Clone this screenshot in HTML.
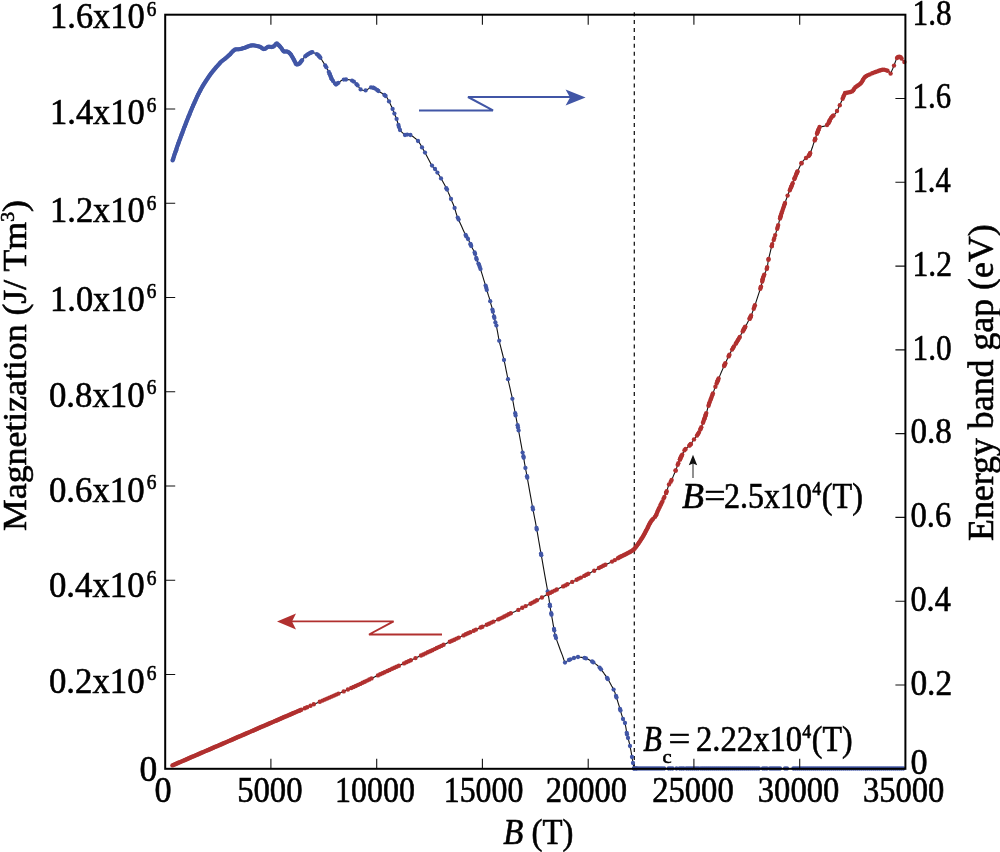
<!DOCTYPE html>
<html lang="en"><head><meta charset="utf-8"><title>Magnetization and energy band gap vs B</title>
<style>
html,body{margin:0;padding:0;background:#fff;}
body{width:1000px;height:852px;overflow:hidden;}
svg{display:block;font-family:"Liberation Serif","Times New Roman",serif;fill:#000;}
</style></head><body>
<svg width="1000" height="852" viewBox="0 0 1000 852">
<rect width="1000" height="852" fill="#fff"/>
<line x1="634.3" y1="12.2" x2="634.3" y2="768.8" stroke="#111" stroke-width="1.25" stroke-dasharray="4 3.912"/>
<path d="M172.6,160.4 L173.4,158.1 L174.4,155.0 L175.7,151.3 L177.1,147.3 L178.5,143.1 L180.0,139.0 L181.5,134.9 L183.1,130.5 L184.8,126.0 L186.6,121.5 L188.3,117.2 L190.0,113.0 L191.7,109.0 L193.3,105.1 L195.0,101.4 L196.7,97.7 L198.3,94.3 L200.0,91.0 L201.7,87.9 L203.3,85.1 L205.0,82.4 L206.7,79.8 L208.3,77.4 L210.0,75.0 L211.7,72.7 L213.5,70.4 L215.3,68.3 L217.0,66.3 L218.6,64.5 L220.0,63.0 L221.1,61.8 L222.0,61.0 L222.8,60.4 L223.5,59.9 L224.2,59.4 L225.0,58.8 L225.8,58.1 L226.6,57.4 L227.4,56.7 L228.2,56.0 L229.0,55.3 L229.8,54.6 L230.6,53.8 L231.4,52.9 L232.2,52.0 L233.0,51.1 L233.8,50.4 L234.6,49.8 L235.4,49.5 L236.2,49.3 L237.0,49.3 L237.8,49.3 L238.6,49.3 L239.4,49.2 L240.2,49.1 L240.9,48.9 L241.6,48.7 L242.4,48.5 L243.2,48.3 L244.2,48.0 L245.3,47.6 L246.6,47.1 L247.9,46.5 L249.3,46.0 L250.7,45.6 L252.0,45.4 L253.3,45.4 L254.7,45.5 L256.1,45.8 L257.5,46.1 L258.7,46.5 L259.8,46.8 L260.7,47.2 L261.5,47.7 L262.1,48.2 L262.7,48.7 L263.3,49.1 L264.0,49.2 L264.7,49.1 L265.4,48.7 L266.1,48.2 L266.8,47.6 L267.5,47.1 L268.2,46.8 L269.0,46.7 L269.8,46.8 L270.6,46.9 L271.5,47.0 L272.3,47.0 L273.0,46.8 L273.7,46.4 L274.4,45.7 L275.1,45.0 L275.7,44.3 L276.2,43.6 L276.6,43.2 L277.1,43.7 L277.7,44.3 L278.5,45.0 L279.3,45.8 L280.1,46.7 L280.8,47.4 L281.4,48.2 L281.9,49.0 L282.4,49.8 L282.8,50.5 L283.3,51.2 L283.8,51.6 L284.3,51.8 L284.8,51.8 L285.3,51.6 L285.8,51.4 L286.3,51.3 L286.8,51.4 L287.4,51.6 L288.0,51.9 L288.6,52.3 L289.2,52.8 L289.8,53.3 L290.4,54.0 L291.0,54.8 L291.6,55.8 L292.3,56.9 L292.9,58.0 L293.5,59.0 L294.0,60.0 L294.5,60.9 L295.0,61.9 L295.4,62.8 L295.8,63.6 L296.2,64.3 L296.4,64.8 L296.7,64.7 L297.2,64.6 L297.7,64.4 L298.3,64.2 L298.9,63.9 L299.4,63.6 L299.8,63.2 L300.2,62.8 L300.6,62.3 L300.9,61.8 L301.3,61.2 L301.8,60.6 L302.3,59.9 L302.8,59.2 L303.4,58.5 L304.0,57.7 L304.6,56.9 L305.4,56.2 L306.3,55.5 L307.3,54.7 L308.4,54.0 L309.5,53.3 L310.5,52.8 L311.4,52.4 L312.1,52.2 L312.6,52.2 L313.0,52.3 L313.5,52.5 L313.9,52.8 L314.4,53.0 L315.0,53.2 L315.6,53.5 L316.2,53.9 L316.9,54.2 L317.5,54.6 L318.0,55.0 L318.4,55.4 L318.8,55.7 L319.1,56.0 L319.5,56.5 L319.9,57.0 L320.4,57.8 L321.1,58.8 L321.9,60.0 L322.7,61.4 L323.6,62.8 L324.4,64.1 L325.2,65.4 L325.9,66.6 L326.5,67.7 L327.1,68.7 L327.7,69.8 L328.2,70.9 L328.8,72.0 L329.3,73.2 L329.8,74.4 L330.3,75.7 L330.7,76.9 L331.2,78.1 L331.8,79.2 L332.5,80.3 L333.3,81.3 L334.1,82.3 L334.9,83.3 L335.5,84.0 L336.0,84.6 L336.2,84.4 L336.5,84.2 L336.9,83.9 L337.3,83.6 L337.8,83.2 L338.4,82.8 L339.1,82.3 L339.9,81.7 L340.7,81.0 L341.7,80.4 L342.7,79.9 L343.8,79.6 L345.0,79.5 L346.4,79.5 L347.9,79.6 L349.4,79.8 L350.8,80.2 L352.0,80.6 L353.1,81.2 L354.2,81.9 L355.1,82.8 L356.0,83.7 L356.8,84.6 L357.6,85.4 L358.2,86.1 L358.7,86.9 L359.1,87.6 L359.5,88.3 L360.0,88.9 L360.6,89.4 L361.3,89.8 L362.1,90.1 L363.0,90.3 L363.8,90.5 L364.7,90.5 L365.6,90.4 L366.5,90.1 L367.4,89.5 L368.4,88.9 L369.3,88.2 L370.2,87.7 L371.0,87.4 L371.8,87.3 L372.5,87.4 L373.1,87.7 L373.8,88.0 L374.4,88.3 L375.0,88.6 L375.6,88.9 L376.0,89.2 L376.5,89.6 L377.0,90.0 L377.6,90.4 L378.4,91.0 L379.4,91.7 L380.7,92.5 L382.0,93.3 L383.3,94.2 L384.6,95.1 L385.6,96.0 L386.4,96.9 L387.0,97.7 L387.5,98.5 L388.0,99.4 L388.5,100.4 L389.0,101.4 L389.6,102.6 L390.3,103.9 L390.9,105.2 L391.5,106.6 L392.1,107.9 L392.6,109.0 L393.0,109.9 L393.3,110.7 L393.6,111.4 L393.8,112.1 L394.1,112.8 L394.4,113.6 L394.7,114.4 L395.1,115.3 L395.5,116.2 L395.9,117.1 L396.3,118.1 L396.6,119.0 L396.9,120.0 L397.2,121.0 L397.5,122.0 L397.8,123.1 L398.1,124.1 L398.4,125.0 L398.6,125.9 L398.8,126.7 L399.0,127.6 L399.2,128.4 L399.5,129.2 L400.0,130.0 L400.7,130.9 L401.6,131.9 L402.6,132.8 L403.6,133.7 L404.4,134.5 L405.0,135.0 L405.6,134.9 L406.3,134.8 L407.2,134.6 L408.2,134.6 L409.3,134.7 L410.4,135.0 L411.6,135.6 L412.9,136.5 L414.3,137.6 L415.7,138.7 L416.9,139.9 L418.0,141.0 L418.9,142.1 L419.6,143.1 L420.3,144.2 L420.9,145.3 L421.4,146.4 L422.0,147.4 L422.5,148.2 L422.9,148.9 L423.3,149.6 L423.7,150.3 L424.3,151.3 L425.0,152.6 L426.0,154.4 L427.2,156.7 L428.5,159.2 L429.8,161.7 L431.0,163.9 L432.0,165.6 L432.7,166.7 L433.3,167.4 L433.8,167.9 L434.2,168.2 L434.6,168.5 L435.0,169.0 L435.4,169.6 L435.8,170.1 L436.2,170.7 L436.5,171.2 L436.9,171.9 L437.4,172.6 L437.9,173.4 L438.4,174.2 L439.0,175.0 L439.6,176.0 L440.2,177.1 L441.0,178.4 L441.9,180.0 L442.9,181.8 L444.0,183.8 L445.1,185.8 L446.1,187.8 L447.0,189.6 L447.8,191.3 L448.5,192.9 L449.2,194.4 L449.8,196.0 L450.4,197.5 L451.0,199.0 L451.6,200.5 L452.2,202.0 L452.9,203.5 L453.5,205.0 L454.0,206.5 L454.6,208.0 L455.1,209.5 L455.5,210.9 L455.9,212.3 L456.3,213.8 L456.9,215.5 L457.7,217.6 L458.8,220.2 L460.2,223.3 L461.7,226.6 L463.2,229.9 L464.5,232.8 L465.6,235.0 L466.3,236.4 L466.8,237.3 L467.1,237.8 L467.4,238.1 L467.7,238.4 L468.0,239.0 L468.4,239.8 L468.9,240.7 L469.3,241.6 L469.7,242.5 L470.1,243.3 L470.4,244.0 L470.6,244.5 L470.7,244.7 L470.7,244.9 L470.8,245.1 L470.9,245.4 L471.2,246.0 L471.6,246.8 L472.2,247.8 L472.8,249.0 L473.5,250.2 L474.1,251.3 L474.6,252.4 L475.0,253.4 L475.2,254.3 L475.5,255.2 L475.7,256.2 L475.9,257.1 L476.2,258.0 L476.5,259.0 L476.9,259.9 L477.3,260.9 L477.7,261.9 L478.1,262.8 L478.4,263.6 L478.6,264.1 L478.8,264.3 L478.9,264.5 L479.0,264.8 L479.3,265.6 L479.8,267.0 L480.6,269.4 L481.6,272.6 L482.7,276.2 L483.8,279.9 L484.8,283.1 L485.6,285.6 L486.0,287.1 L486.3,287.9 L486.4,288.3 L486.4,288.6 L486.5,289.0 L486.8,290.0 L487.3,291.5 L487.8,293.3 L488.4,295.4 L489.1,297.4 L489.7,299.4 L490.2,301.2 L490.6,302.8 L491.0,304.3 L491.4,305.7 L491.8,307.0 L492.1,308.3 L492.4,309.6 L492.7,310.8 L493.0,312.0 L493.2,313.2 L493.5,314.3 L493.8,315.3 L494.0,316.4 L494.2,317.5 L494.5,318.6 L494.7,319.6 L495.0,320.6 L495.2,321.6 L495.4,322.4 L495.6,323.0 L495.7,323.2 L495.8,323.4 L495.9,323.7 L496.1,324.4 L496.4,325.6 L496.7,327.4 L497.1,329.6 L497.6,332.2 L498.1,335.0 L498.6,337.9 L499.2,340.8 L499.9,343.8 L500.7,346.9 L501.5,350.1 L502.4,353.5 L503.2,356.8 L504.0,360.0 L504.7,363.2 L505.4,366.4 L506.0,369.6 L506.7,372.8 L507.3,376.0 L508.0,379.2 L508.7,382.5 L509.5,385.9 L510.3,389.3 L511.0,392.6 L511.8,395.8 L512.4,398.8 L513.0,401.5 L513.5,404.1 L513.9,406.5 L514.4,408.8 L514.8,411.0 L515.2,413.2 L515.6,415.4 L516.1,417.6 L516.5,419.8 L516.9,421.8 L517.3,423.6 L517.6,425.2 L517.8,426.3 L517.9,426.8 L518.0,427.2 L518.1,427.7 L518.3,428.6 L518.6,430.4 L519.1,433.3 L519.8,437.2 L520.6,441.6 L521.4,445.9 L522.1,449.8 L522.6,452.6 L522.9,454.2 L523.1,454.9 L523.1,455.1 L523.2,455.1 L523.2,455.3 L523.4,456.2 L523.7,457.7 L524.0,459.7 L524.3,461.8 L524.7,464.0 L525.1,466.1 L525.4,468.0 L525.6,469.3 L525.8,470.1 L526.0,470.9 L526.2,471.9 L526.5,473.5 L527.0,476.2 L527.7,480.2 L528.6,485.2 L529.6,490.9 L530.7,496.8 L531.7,502.5 L532.6,507.4 L533.4,511.6 L534.1,515.4 L534.8,518.9 L535.5,522.4 L536.1,525.9 L536.8,529.6 L537.5,533.3 L538.1,536.9 L538.7,540.5 L539.4,544.4 L540.1,548.7 L541.0,553.6 L542.1,559.6 L543.3,566.6 L544.6,574.1 L545.9,581.4 L547.1,587.9 L548.0,593.0 L548.6,596.6 L549.0,599.0 L549.2,600.7 L549.4,602.0 L549.6,603.2 L549.8,604.6 L550.0,606.1 L550.2,607.4 L550.4,608.6 L550.6,609.9 L550.9,611.4 L551.2,613.2 L551.6,615.5 L552.1,618.3 L552.6,621.2 L553.1,624.1 L553.6,626.8 L554.0,629.0 L554.3,630.7 L554.5,632.0 L554.7,633.1 L554.9,634.1 L555.0,634.8 L555.2,635.6 L555.3,636.0 L555.2,635.9 L555.1,635.7 L555.1,635.7 L555.4,636.4 L556.0,638.0 L557.1,641.1 L558.7,645.5 L560.5,650.5 L562.4,655.4 L563.9,659.7 L565.0,662.6 L565.4,662.3 L566.0,661.9 L566.7,661.4 L567.4,660.9 L568.2,660.4 L569.0,660.0 L569.8,659.6 L570.6,659.3 L571.5,658.9 L572.4,658.6 L573.2,658.3 L574.0,658.0 L574.7,657.7 L575.3,657.5 L575.8,657.3 L576.4,657.1 L577.1,657.0 L578.0,657.0 L579.1,657.1 L580.4,657.2 L581.8,657.4 L583.2,657.7 L584.7,658.0 L586.0,658.4 L587.3,658.9 L588.6,659.5 L589.8,660.2 L591.0,660.9 L592.2,661.6 L593.4,662.4 L594.5,663.1 L595.5,663.9 L596.5,664.6 L597.5,665.5 L598.5,666.4 L599.6,667.6 L600.8,669.0 L602.0,670.6 L603.3,672.3 L604.5,674.1 L605.8,675.9 L607.0,677.8 L608.2,679.7 L609.4,681.8 L610.6,683.9 L611.7,686.0 L612.8,687.9 L613.6,689.6 L614.2,690.9 L614.7,691.9 L615.0,692.7 L615.2,693.6 L615.6,694.6 L616.0,696.0 L616.6,697.8 L617.3,700.0 L618.0,702.3 L618.7,704.6 L619.4,706.9 L620.0,709.0 L620.6,710.9 L621.1,712.8 L621.6,714.6 L622.1,716.2 L622.6,717.7 L623.0,719.0 L623.4,719.9 L623.7,720.5 L624.1,720.9 L624.4,721.3 L624.7,722.0 L625.0,723.0 L625.3,724.6 L625.7,726.5 L626.1,728.7 L626.4,730.9 L626.7,732.9 L627.0,734.4 L627.2,735.4 L627.4,736.0 L627.5,736.4 L627.6,736.8 L627.8,737.2 L628.0,738.0 L628.3,739.0 L628.6,740.2 L628.9,741.5 L629.3,742.9 L629.7,744.4 L630.0,746.0 L630.3,747.7 L630.7,749.6 L631.1,751.6 L631.4,753.6 L631.7,755.4 L632.0,757.0 L632.2,758.3 L632.4,759.4 L632.6,760.3 L632.7,761.2 L632.8,762.1 L633.0,763.0 L633.2,764.0 L633.4,765.1 L633.6,766.1 L633.7,767.1 L633.9,767.9 L634.0,768.5" fill="none" stroke="#111" stroke-width="1.1" stroke-linejoin="round"/>
<path d="M172.4,765.4 L188.0,758.7 L210.8,748.8 L237.2,737.4 L263.6,726.0 L286.4,716.1 L302.0,709.4 L306.3,707.5 L312.5,704.9 L319.8,701.8 L327.3,698.5 L334.3,695.5 L340.0,693.0 L344.4,691.1 L348.0,689.5 L351.1,688.1 L354.0,686.8 L356.9,685.4 L360.0,684.0 L363.1,682.5 L365.9,681.2 L368.8,679.8 L371.9,678.3 L375.5,676.5 L380.0,674.4 L385.5,671.8 L391.9,668.9 L398.8,665.8 L405.9,662.5 L413.1,659.2 L420.0,656.0 L426.7,652.9 L433.3,649.7 L440.0,646.5 L446.7,643.3 L453.3,640.1 L460.0,637.0 L467.0,633.7 L474.5,630.3 L482.0,626.9 L489.0,623.6 L495.2,620.8 L500.0,618.6 L503.2,617.1 L505.0,616.2 L506.0,615.7 L506.5,615.4 L507.0,615.1 L508.0,614.6 L509.3,614.0 L510.6,613.4 L511.9,612.8 L513.3,612.3 L514.6,611.7 L516.0,611.0 L517.5,610.3 L519.0,609.5 L520.5,608.7 L522.0,607.9 L523.5,607.1 L525.0,606.4 L526.4,605.7 L527.7,605.0 L529.1,604.4 L530.4,603.7 L531.7,603.1 L533.0,602.4 L534.3,601.7 L535.7,600.9 L537.1,600.2 L538.4,599.5 L539.7,598.7 L541.0,598.0 L542.2,597.3 L543.4,596.6 L544.6,595.9 L545.7,595.3 L546.8,594.6 L548.0,594.0 L549.1,593.4 L550.2,592.8 L551.2,592.3 L552.4,591.7 L553.6,591.1 L555.0,590.4 L556.6,589.6 L558.3,588.8 L560.2,587.8 L562.1,586.9 L564.1,586.0 L566.0,585.0 L568.0,584.0 L570.1,583.0 L572.2,581.9 L574.3,580.9 L576.2,579.9 L578.0,579.0 L579.6,578.2 L581.0,577.5 L582.3,576.9 L583.5,576.3 L584.7,575.6 L586.0,575.0 L587.3,574.3 L588.6,573.6 L589.9,573.0 L591.2,572.3 L592.4,571.6 L593.6,571.0 L594.7,570.4 L595.7,569.8 L596.6,569.3 L597.6,568.7 L598.5,568.2 L599.6,567.6 L600.8,567.0 L602.0,566.4 L603.2,565.8 L604.5,565.2 L605.8,564.6 L607.0,564.0 L608.2,563.4 L609.4,562.9 L610.6,562.3 L611.8,561.7 L612.9,561.2 L614.0,560.6 L615.0,560.0 L616.0,559.4 L616.9,558.8 L617.9,558.2 L618.9,557.6 L620.0,557.0 L621.2,556.3 L622.6,555.7 L624.0,555.0 L625.4,554.3 L626.8,553.6 L628.0,553.0 L629.1,552.4 L630.1,551.9 L631.0,551.4 L631.9,550.9 L632.8,550.3 L633.6,549.6 L634.4,548.8 L635.2,547.9 L635.9,547.0 L636.6,546.0 L637.3,545.0 L638.0,544.0 L638.7,543.0 L639.4,542.1 L640.0,541.1 L640.7,540.1 L641.3,539.1 L642.0,538.0 L642.7,536.9 L643.3,535.8 L644.0,534.6 L644.7,533.4 L645.3,532.2 L646.0,531.0 L646.7,529.7 L647.4,528.2 L648.1,526.8 L648.8,525.3 L649.4,524.1 L650.0,523.0 L650.4,522.2 L650.8,521.7 L651.0,521.2 L651.3,520.9 L651.6,520.5 L652.0,520.0 L652.5,519.4 L653.1,518.8 L653.8,518.2 L654.4,517.5 L655.1,516.8 L655.6,516.0 L656.1,515.2 L656.4,514.3 L656.8,513.4 L657.2,512.5 L657.5,511.5 L658.0,510.4 L658.5,509.2 L659.2,508.0 L659.8,506.7 L660.4,505.4 L661.1,504.1 L661.6,503.0 L662.1,502.0 L662.5,501.1 L662.9,500.3 L663.2,499.5 L663.6,498.7 L664.0,497.8 L664.4,496.9 L664.8,496.0 L665.2,495.1 L665.6,494.1 L666.0,493.1 L666.4,492.0 L666.8,490.8 L667.3,489.5 L667.7,488.1 L668.1,486.8 L668.6,485.5 L669.0,484.4 L669.4,483.5 L669.8,482.9 L670.2,482.3 L670.6,481.7 L671.1,481.0 L671.6,480.0 L672.2,478.7 L672.9,477.1 L673.6,475.4 L674.3,473.7 L675.0,472.1 L675.6,470.6 L676.1,469.3 L676.5,468.2 L676.9,467.2 L677.2,466.1 L677.6,465.1 L678.0,464.0 L678.5,462.9 L678.9,461.7 L679.4,460.6 L679.9,459.4 L680.4,458.2 L681.0,457.0 L681.6,455.8 L682.2,454.5 L682.9,453.1 L683.6,451.9 L684.3,450.7 L685.0,449.6 L685.8,448.7 L686.6,447.9 L687.5,447.2 L688.4,446.5 L689.2,445.8 L690.0,445.0 L690.7,444.1 L691.4,443.2 L692.1,442.2 L692.7,441.3 L693.3,440.3 L694.0,439.4 L694.7,438.5 L695.4,437.6 L696.1,436.7 L696.7,435.8 L697.4,434.9 L698.0,434.0 L698.6,433.0 L699.1,432.1 L699.6,431.1 L700.1,430.1 L700.5,429.1 L701.0,428.0 L701.5,426.9 L701.9,425.7 L702.3,424.6 L702.8,423.4 L703.2,422.2 L703.6,421.0 L704.0,419.9 L704.4,418.8 L704.8,417.7 L705.2,416.6 L705.6,415.3 L706.0,414.0 L706.5,412.5 L707.0,410.8 L707.5,409.0 L708.0,407.2 L708.5,405.5 L709.0,404.0 L709.4,402.8 L709.8,401.8 L710.1,400.9 L710.5,399.9 L711.0,398.7 L711.6,397.0 L712.4,394.9 L713.3,392.4 L714.3,389.6 L715.4,386.7 L716.5,383.8 L717.6,381.0 L718.8,378.1 L720.1,375.1 L721.4,372.0 L722.7,369.1 L723.9,366.3 L725.0,364.0 L725.9,362.1 L726.6,360.5 L727.2,359.2 L727.8,358.0 L728.4,356.9 L729.0,355.6 L729.7,354.3 L730.3,353.0 L730.9,351.8 L731.6,350.5 L732.3,349.3 L733.0,348.0 L733.8,346.7 L734.6,345.5 L735.4,344.2 L736.2,342.9 L737.1,341.5 L738.0,340.0 L738.9,338.3 L739.9,336.6 L740.9,334.7 L742.0,332.8 L743.0,330.9 L744.0,329.0 L745.0,327.2 L746.1,325.3 L747.1,323.4 L748.1,321.6 L749.1,319.8 L750.0,318.0 L750.7,316.4 L751.4,315.0 L751.9,313.7 L752.5,312.1 L753.2,310.3 L754.0,308.0 L755.1,304.9 L756.3,301.2 L757.6,297.2 L758.9,293.2 L760.1,289.6 L761.0,286.6 L761.6,284.4 L762.0,282.8 L762.2,281.6 L762.4,280.5 L762.6,279.4 L763.0,278.0 L763.6,276.4 L764.3,274.7 L765.0,273.0 L765.8,271.3 L766.4,269.6 L767.0,268.0 L767.4,266.5 L767.6,265.1 L767.8,263.8 L768.0,262.3 L768.3,260.8 L768.6,259.0 L769.1,256.9 L769.7,254.4 L770.3,251.8 L770.9,249.3 L771.5,246.9 L772.0,245.0 L772.4,243.6 L772.7,242.7 L773.0,241.9 L773.2,241.2 L773.6,240.3 L774.0,239.0 L774.6,237.2 L775.2,235.1 L775.9,232.8 L776.7,230.4 L777.4,228.1 L778.0,226.0 L778.5,224.1 L779.0,222.2 L779.5,220.4 L780.0,218.7 L780.5,216.9 L781.0,215.0 L781.6,213.0 L782.3,210.9 L783.0,208.8 L783.7,206.7 L784.4,204.7 L785.0,203.0 L785.5,201.5 L785.9,200.3 L786.3,199.2 L786.7,198.1 L787.1,197.0 L787.6,195.6 L788.2,194.0 L788.9,192.3 L789.7,190.5 L790.5,188.6 L791.3,186.8 L792.0,185.0 L792.7,183.3 L793.3,181.7 L793.9,180.1 L794.6,178.5 L795.2,176.8 L796.0,175.0 L796.9,173.0 L797.8,170.9 L798.8,168.7 L799.8,166.6 L800.7,164.6 L801.6,163.0 L802.4,161.7 L803.2,160.8 L803.9,160.0 L804.6,159.3 L805.3,158.7 L806.0,158.0 L806.6,157.4 L807.2,157.1 L807.7,156.8 L808.3,156.4 L808.9,155.6 L809.6,154.4 L810.4,152.5 L811.4,150.0 L812.4,147.3 L813.3,144.4 L814.2,141.8 L815.0,139.6 L815.6,137.9 L816.1,136.4 L816.5,135.2 L816.9,134.1 L817.2,133.0 L817.6,132.0 L818.0,131.0 L818.4,130.0 L818.8,129.0 L819.1,128.2 L819.4,127.5 L819.6,127.0 L820.4,126.8 L821.6,126.7 L823.1,126.4 L824.5,126.1 L825.9,125.6 L827.0,125.0 L827.8,124.1 L828.5,123.0 L829.1,121.8 L829.6,120.5 L830.3,119.2 L831.0,118.0 L831.9,117.0 L832.8,116.1 L833.8,115.2 L834.8,114.1 L835.9,112.8 L837.0,111.0 L838.3,108.4 L839.8,105.1 L841.4,101.6 L842.9,98.1 L844.1,95.1 L845.0,93.0 L845.8,92.9 L847.0,92.7 L848.3,92.4 L849.7,92.2 L851.0,91.8 L852.0,91.4 L852.7,90.9 L853.2,90.3 L853.6,89.7 L853.9,89.0 L854.4,88.3 L855.0,87.6 L855.8,86.9 L856.9,86.2 L857.9,85.4 L859.0,84.7 L860.1,83.9 L861.0,83.0 L861.7,82.1 L862.4,81.0 L862.9,79.9 L863.5,78.9 L864.2,77.9 L865.0,77.0 L866.0,76.3 L867.1,75.6 L868.2,75.0 L869.5,74.5 L870.7,73.9 L872.0,73.4 L873.3,72.8 L874.7,72.3 L876.2,71.7 L877.6,71.2 L878.9,70.8 L880.0,70.4 L880.9,70.1 L881.6,69.9 L882.2,69.7 L882.7,69.6 L883.3,69.5 L884.0,69.6 L884.8,69.8 L885.7,70.1 L886.6,70.4 L887.5,70.8 L888.4,71.2 L889.0,71.6 L889.5,72.0 L889.8,72.3 L890.1,72.7 L890.3,73.1 L890.5,73.4 L890.6,73.6 L891.0,72.7 L891.5,71.5 L892.1,70.1 L892.8,68.5 L893.4,67.0 L894.0,65.6 L894.5,64.2 L895.0,62.8 L895.5,61.4 L896.0,60.1 L896.5,58.9 L897.0,58.0 L897.5,57.4 L897.9,56.9 L898.3,56.7 L898.8,56.6 L899.2,56.5 L899.6,56.6 L900.0,56.8 L900.4,57.1 L900.8,57.5 L901.2,58.0 L901.6,58.5 L902.0,59.0 L902.4,59.5 L902.9,60.1 L903.4,60.6 L903.8,61.2 L904.1,61.7 L904.4,62.0" fill="none" stroke="#111" stroke-width="1.1" stroke-linejoin="round"/>
<g fill="#4156a6"><circle cx="172.6" cy="160.4" r="2.15"/><circle cx="173.0" cy="159.3" r="2.15"/><circle cx="173.4" cy="158.1" r="2.15"/><circle cx="173.8" cy="157.0" r="2.15"/><circle cx="174.1" cy="155.9" r="2.15"/><circle cx="174.5" cy="154.7" r="2.15"/><circle cx="174.9" cy="153.6" r="2.15"/><circle cx="175.3" cy="152.4" r="2.15"/><circle cx="175.7" cy="151.3" r="2.15"/><circle cx="176.1" cy="150.2" r="2.15"/><circle cx="176.5" cy="149.0" r="2.15"/><circle cx="176.8" cy="147.9" r="2.15"/><circle cx="177.2" cy="146.8" r="2.15"/><circle cx="177.6" cy="145.6" r="2.15"/><circle cx="178.0" cy="144.5" r="2.15"/><circle cx="178.4" cy="143.4" r="2.15"/><circle cx="178.8" cy="142.2" r="2.15"/><circle cx="179.2" cy="141.1" r="2.15"/><circle cx="179.6" cy="140.0" r="2.15"/><circle cx="180.1" cy="138.9" r="2.15"/><circle cx="180.5" cy="137.7" r="2.15"/><circle cx="180.9" cy="136.6" r="2.15"/><circle cx="181.3" cy="135.5" r="2.15"/><circle cx="181.7" cy="134.4" r="2.15"/><circle cx="182.1" cy="133.2" r="2.15"/><circle cx="182.6" cy="132.1" r="2.15"/><circle cx="183.0" cy="131.0" r="2.15"/><circle cx="183.4" cy="129.9" r="2.15"/><circle cx="183.8" cy="128.7" r="2.15"/><circle cx="184.2" cy="127.6" r="2.15"/><circle cx="184.7" cy="126.5" r="2.15"/><circle cx="185.1" cy="125.4" r="2.15"/><circle cx="185.5" cy="124.2" r="2.15"/><circle cx="186.0" cy="123.1" r="2.15"/><circle cx="186.4" cy="122.0" r="2.15"/><circle cx="186.8" cy="120.9" r="2.15"/><circle cx="187.3" cy="119.8" r="2.15"/><circle cx="187.7" cy="118.7" r="2.15"/><circle cx="188.2" cy="117.5" r="2.15"/><circle cx="188.6" cy="116.4" r="2.15"/><circle cx="189.1" cy="115.3" r="2.15"/><circle cx="189.5" cy="114.2" r="2.15"/><circle cx="190.0" cy="113.1" r="2.15"/><circle cx="190.4" cy="112.0" r="2.15"/><circle cx="190.9" cy="110.9" r="2.15"/><circle cx="191.4" cy="109.8" r="2.15"/><circle cx="191.8" cy="108.7" r="2.15"/><circle cx="192.3" cy="107.6" r="2.15"/><circle cx="192.8" cy="106.5" r="2.15"/><circle cx="193.2" cy="105.4" r="2.15"/><circle cx="193.7" cy="104.3" r="2.15"/><circle cx="194.2" cy="103.2" r="2.15"/><circle cx="194.7" cy="102.1" r="2.15"/><circle cx="195.2" cy="101.0" r="2.15"/><circle cx="195.7" cy="99.9" r="2.15"/><circle cx="196.2" cy="98.8" r="2.15"/><circle cx="196.7" cy="97.7" r="2.15"/><circle cx="197.2" cy="96.6" r="2.15"/><circle cx="197.7" cy="95.5" r="2.15"/><circle cx="198.2" cy="94.5" r="2.15"/><circle cx="198.8" cy="93.4" r="2.15"/><circle cx="199.3" cy="92.3" r="2.15"/><circle cx="199.9" cy="91.2" r="2.15"/><circle cx="200.4" cy="90.2" r="2.15"/><circle cx="201.0" cy="89.1" r="2.15"/><circle cx="201.6" cy="88.1" r="2.15"/><circle cx="202.2" cy="87.0" r="2.15"/><circle cx="202.8" cy="86.0" r="2.15"/><circle cx="203.4" cy="85.0" r="2.15"/><circle cx="204.0" cy="83.9" r="2.15"/><circle cx="204.7" cy="82.9" r="2.15"/><circle cx="205.3" cy="81.9" r="2.15"/><circle cx="206.0" cy="80.9" r="2.15"/><circle cx="206.6" cy="79.9" r="2.15"/><circle cx="207.3" cy="78.9" r="2.15"/><circle cx="208.0" cy="77.9" r="2.15"/><circle cx="208.6" cy="76.9" r="2.15"/><circle cx="209.3" cy="75.9" r="2.15"/><circle cx="210.0" cy="75.0" r="2.15"/><circle cx="210.7" cy="74.0" r="2.15"/><circle cx="211.5" cy="73.0" r="2.15"/><circle cx="212.2" cy="72.1" r="2.15"/><circle cx="212.9" cy="71.2" r="2.15"/><circle cx="213.7" cy="70.2" r="2.15"/><circle cx="214.5" cy="69.3" r="2.15"/><circle cx="215.2" cy="68.4" r="2.15"/><circle cx="216.0" cy="67.5" r="2.15"/><circle cx="216.8" cy="66.6" r="2.15"/><circle cx="217.6" cy="65.7" r="2.15"/><circle cx="218.4" cy="64.8" r="2.15"/><circle cx="219.2" cy="63.9" r="2.15"/><circle cx="220.0" cy="63.0" r="2.15"/><circle cx="220.8" cy="62.1" r="2.15"/><circle cx="221.7" cy="61.3" r="2.15"/><circle cx="222.6" cy="60.6" r="2.15"/><circle cx="223.6" cy="59.8" r="2.15"/><circle cx="224.6" cy="59.1" r="2.15"/><circle cx="225.5" cy="58.4" r="2.15"/><circle cx="226.4" cy="57.6" r="2.15"/><circle cx="227.3" cy="56.8" r="2.15"/><circle cx="228.2" cy="56.0" r="2.15"/><circle cx="229.1" cy="55.2" r="2.15"/><circle cx="230.0" cy="54.4" r="2.15"/><circle cx="230.8" cy="53.5" r="2.15"/><circle cx="231.6" cy="52.6" r="2.15"/><circle cx="232.4" cy="51.7" r="2.15"/><circle cx="233.3" cy="50.9" r="2.15"/><circle cx="234.2" cy="50.1" r="2.15"/><circle cx="235.2" cy="49.5" r="2.15"/><circle cx="236.4" cy="49.3" r="2.15"/><circle cx="237.6" cy="49.3" r="2.15"/><circle cx="238.8" cy="49.3" r="2.15"/><circle cx="240.0" cy="49.1" r="2.15"/><circle cx="241.2" cy="48.8" r="2.15"/><circle cx="242.3" cy="48.5" r="2.15"/><circle cx="243.5" cy="48.2" r="2.15"/><circle cx="244.6" cy="47.9" r="2.15"/><circle cx="245.7" cy="47.4" r="2.15"/><circle cx="246.8" cy="47.0" r="2.15"/><circle cx="248.0" cy="46.5" r="2.15"/><circle cx="249.1" cy="46.1" r="2.15"/><circle cx="250.2" cy="45.7" r="2.15"/><circle cx="251.4" cy="45.5" r="2.15"/><circle cx="252.6" cy="45.4" r="2.15"/><circle cx="253.8" cy="45.4" r="2.15"/><circle cx="255.0" cy="45.6" r="2.15"/><circle cx="256.2" cy="45.8" r="2.15"/><circle cx="257.3" cy="46.1" r="2.15"/><circle cx="258.5" cy="46.4" r="2.15"/><circle cx="259.6" cy="46.7" r="2.15"/><circle cx="260.7" cy="47.2" r="2.15"/><circle cx="261.7" cy="47.9" r="2.15"/><circle cx="262.7" cy="48.7" r="2.15"/><circle cx="263.7" cy="49.1" r="2.15"/><circle cx="264.9" cy="48.9" r="2.15"/><circle cx="265.9" cy="48.3" r="2.15"/><circle cx="266.8" cy="47.6" r="2.15"/><circle cx="267.9" cy="46.9" r="2.15"/><circle cx="269.0" cy="46.7" r="2.15"/><circle cx="270.2" cy="46.8" r="2.15"/><circle cx="271.4" cy="47.0" r="2.15"/><circle cx="272.6" cy="46.9" r="2.15"/><circle cx="273.7" cy="46.4" r="2.15"/><circle cx="274.6" cy="45.6" r="2.15"/><circle cx="275.4" cy="44.7" r="2.15"/><circle cx="276.1" cy="43.8" r="2.15"/><circle cx="276.9" cy="43.5" r="2.15"/><circle cx="277.8" cy="44.3" r="2.15"/><circle cx="278.7" cy="45.2" r="2.15"/><circle cx="279.5" cy="46.0" r="2.15"/><circle cx="280.3" cy="46.9" r="2.15"/><circle cx="281.1" cy="47.8" r="2.15"/><circle cx="281.8" cy="48.8" r="2.15"/><circle cx="282.4" cy="49.8" r="2.15"/><circle cx="283.1" cy="50.8" r="2.15"/><circle cx="283.9" cy="51.6" r="2.15"/><circle cx="285.1" cy="51.7" r="2.15"/><circle cx="286.2" cy="51.3" r="2.15"/><circle cx="287.4" cy="51.6" r="2.15"/><circle cx="288.4" cy="52.2" r="2.15"/><circle cx="289.4" cy="53.0" r="2.15"/><circle cx="290.2" cy="53.8" r="2.15"/><circle cx="291.0" cy="54.7" r="2.15"/><circle cx="291.6" cy="55.8" r="2.15"/><circle cx="292.2" cy="56.8" r="2.15"/><circle cx="292.8" cy="57.8" r="2.15"/><circle cx="293.4" cy="58.9" r="2.15"/><circle cx="294.0" cy="59.9" r="2.15"/><circle cx="294.5" cy="61.0" r="2.15"/><circle cx="295.1" cy="62.1" r="2.15"/><circle cx="295.6" cy="63.1" r="2.15"/><circle cx="296.1" cy="64.2" r="2.15"/><circle cx="296.9" cy="64.6" r="2.15"/><circle cx="298.1" cy="64.3" r="2.15"/><circle cx="299.2" cy="63.8" r="2.15"/><circle cx="300.0" cy="63.0" r="2.15"/><circle cx="300.8" cy="62.0" r="2.15"/><circle cx="301.5" cy="61.0" r="2.15"/><circle cx="302.2" cy="60.1" r="2.15"/><circle cx="305.2" cy="56.4" r="2.15"/><circle cx="306.2" cy="55.6" r="2.15"/><circle cx="307.1" cy="54.9" r="2.15"/><circle cx="308.1" cy="54.2" r="2.15"/><circle cx="309.1" cy="53.6" r="2.15"/><circle cx="310.2" cy="53.0" r="2.15"/><circle cx="311.3" cy="52.5" r="2.15"/><circle cx="312.4" cy="52.2" r="2.15"/><circle cx="318.0" cy="55.0" r="2.15"/><circle cx="316.7" cy="54.1" r="2.15"/><circle cx="320.4" cy="57.8" r="2.15"/><circle cx="319.5" cy="56.5" r="2.15"/><circle cx="325.2" cy="65.4" r="2.15"/><circle cx="326.3" cy="67.3" r="2.15"/><circle cx="328.8" cy="72.0" r="2.15"/><circle cx="329.6" cy="74.0" r="2.15"/><circle cx="331.8" cy="79.2" r="2.15"/><circle cx="333.0" cy="81.0" r="2.15"/><circle cx="336.0" cy="84.6" r="2.15"/><circle cx="335.0" cy="83.4" r="2.15"/><circle cx="338.4" cy="82.8" r="2.15"/><circle cx="337.1" cy="83.7" r="2.15"/><circle cx="343.8" cy="79.6" r="2.15"/><circle cx="346.0" cy="79.5" r="2.15"/><circle cx="352.0" cy="80.6" r="2.15"/><circle cx="353.9" cy="81.7" r="2.15"/><circle cx="357.6" cy="85.4" r="2.15"/><circle cx="356.5" cy="84.2" r="2.15"/><circle cx="360.6" cy="89.4" r="2.15"/><circle cx="365.6" cy="90.4" r="2.15"/><circle cx="371.0" cy="87.4" r="2.15"/><circle cx="373.2" cy="87.7" r="2.15"/><circle cx="375.0" cy="88.6" r="2.15"/><circle cx="373.6" cy="87.9" r="2.15"/><circle cx="378.4" cy="91.0" r="2.15"/><circle cx="377.1" cy="90.0" r="2.15"/><circle cx="385.6" cy="96.0" r="2.15"/><circle cx="384.4" cy="95.0" r="2.15"/><circle cx="389.0" cy="101.4" r="2.15"/><circle cx="392.6" cy="109.0" r="2.15"/><circle cx="394.4" cy="113.6" r="2.15"/><circle cx="396.6" cy="119.0" r="2.15"/><circle cx="398.4" cy="125.0" r="2.15"/><circle cx="398.9" cy="127.1" r="2.15"/><circle cx="400.0" cy="130.0" r="2.15"/><circle cx="405.0" cy="135.0" r="2.15"/><circle cx="407.2" cy="134.6" r="2.15"/><circle cx="410.4" cy="135.0" r="2.15"/><circle cx="418.0" cy="141.0" r="2.15"/><circle cx="422.0" cy="147.4" r="2.15"/><circle cx="425.0" cy="152.6" r="2.15"/><circle cx="432.0" cy="165.6" r="2.15"/><circle cx="435.0" cy="169.0" r="2.15"/><circle cx="437.4" cy="172.6" r="2.15"/><circle cx="441.0" cy="178.4" r="2.15"/><circle cx="447.0" cy="189.6" r="2.15"/><circle cx="446.3" cy="188.2" r="2.15"/><circle cx="451.0" cy="199.0" r="2.15"/><circle cx="454.6" cy="208.0" r="2.15"/><circle cx="457.7" cy="217.6" r="2.15"/><circle cx="458.6" cy="219.6" r="2.15"/><circle cx="465.6" cy="235.0" r="2.15"/><circle cx="466.3" cy="236.4" r="2.15"/><circle cx="468.0" cy="239.0" r="2.15"/><circle cx="470.4" cy="244.0" r="2.15"/><circle cx="471.2" cy="246.0" r="2.15"/><circle cx="470.6" cy="244.5" r="2.15"/><circle cx="474.6" cy="252.4" r="2.15"/><circle cx="475.1" cy="253.9" r="2.15"/><circle cx="476.2" cy="258.0" r="2.15"/><circle cx="476.7" cy="259.5" r="2.15"/><circle cx="478.4" cy="263.6" r="2.15"/><circle cx="479.1" cy="265.0" r="2.15"/><circle cx="479.8" cy="267.0" r="2.15"/><circle cx="480.5" cy="269.1" r="2.15"/><circle cx="485.6" cy="285.6" r="2.15"/><circle cx="486.2" cy="287.7" r="2.15"/><circle cx="486.8" cy="290.0" r="2.15"/><circle cx="490.2" cy="301.2" r="2.15"/><circle cx="492.4" cy="309.6" r="2.15"/><circle cx="492.9" cy="311.7" r="2.15"/><circle cx="494.0" cy="316.4" r="2.15"/><circle cx="494.4" cy="318.0" r="2.15"/><circle cx="495.4" cy="322.4" r="2.15"/><circle cx="496.4" cy="325.6" r="2.15"/><circle cx="499.2" cy="340.8" r="2.15"/><circle cx="504.0" cy="360.0" r="2.15"/><circle cx="508.0" cy="379.2" r="2.15"/><circle cx="512.4" cy="398.8" r="2.15"/><circle cx="515.2" cy="413.2" r="2.15"/><circle cx="515.6" cy="415.4" r="2.15"/><circle cx="517.6" cy="425.2" r="2.15"/><circle cx="518.0" cy="427.4" r="2.15"/><circle cx="518.6" cy="430.4" r="2.15"/><circle cx="522.6" cy="452.6" r="2.15"/><circle cx="523.4" cy="456.2" r="2.15"/><circle cx="523.7" cy="457.8" r="2.15"/><circle cx="525.4" cy="468.0" r="2.15"/><circle cx="527.0" cy="476.2" r="2.15"/><circle cx="527.3" cy="477.8" r="2.15"/><circle cx="532.6" cy="507.4" r="2.15"/><circle cx="533.0" cy="509.6" r="2.15"/><circle cx="536.8" cy="529.6" r="2.15"/><circle cx="536.5" cy="528.0" r="2.15"/><circle cx="541.0" cy="553.6" r="2.15"/><circle cx="541.3" cy="555.2" r="2.15"/><circle cx="548.0" cy="593.0" r="2.15"/><circle cx="547.7" cy="591.4" r="2.15"/><circle cx="549.8" cy="604.6" r="2.15"/><circle cx="550.0" cy="606.2" r="2.15"/><circle cx="551.2" cy="613.2" r="2.15"/><circle cx="551.5" cy="614.8" r="2.15"/><circle cx="554.0" cy="629.0" r="2.15"/><circle cx="554.3" cy="630.6" r="2.15"/><circle cx="555.2" cy="635.6" r="2.15"/><circle cx="556.0" cy="638.0" r="2.15"/><circle cx="565.0" cy="662.6" r="2.15"/><circle cx="569.0" cy="660.0" r="2.15"/><circle cx="570.5" cy="659.3" r="2.15"/><circle cx="574.0" cy="658.0" r="2.15"/><circle cx="578.0" cy="657.0" r="2.15"/><circle cx="586.0" cy="658.4" r="2.15"/><circle cx="584.5" cy="657.9" r="2.15"/><circle cx="593.4" cy="662.4" r="2.15"/><circle cx="592.1" cy="661.5" r="2.15"/><circle cx="599.6" cy="667.6" r="2.15"/><circle cx="601.0" cy="669.3" r="2.15"/><circle cx="607.0" cy="677.8" r="2.15"/><circle cx="607.8" cy="679.2" r="2.15"/><circle cx="613.6" cy="689.6" r="2.15"/><circle cx="616.0" cy="696.0" r="2.15"/><circle cx="616.5" cy="697.5" r="2.15"/><circle cx="620.0" cy="709.0" r="2.15"/><circle cx="620.5" cy="710.5" r="2.15"/><circle cx="623.0" cy="719.0" r="2.15"/><circle cx="625.0" cy="723.0" r="2.15"/><circle cx="627.0" cy="734.4" r="2.15"/><circle cx="626.7" cy="732.8" r="2.15"/><circle cx="628.0" cy="738.0" r="2.15"/><circle cx="630.0" cy="746.0" r="2.15"/><circle cx="632.0" cy="757.0" r="2.15"/><circle cx="633.0" cy="763.0" r="2.15"/><circle cx="634.0" cy="768.5" r="2.15"/><circle cx="636.2" cy="768.5" r="2.15"/><circle cx="319.2" cy="56.4" r="2.15"/><circle cx="329.8" cy="74.2" r="2.15"/><circle cx="330.4" cy="75.9" r="2.15"/><circle cx="330.8" cy="76.8" r="2.15"/><circle cx="331.4" cy="78.4" r="2.15"/><circle cx="634.0" cy="768.5" r="2.15"/><circle cx="636.0" cy="768.5" r="2.15"/><circle cx="638.0" cy="768.5" r="2.15"/><circle cx="640.0" cy="768.5" r="2.15"/><circle cx="642.0" cy="768.5" r="2.15"/><circle cx="644.0" cy="768.5" r="2.15"/><circle cx="646.0" cy="768.5" r="2.15"/><circle cx="648.0" cy="768.5" r="2.15"/><circle cx="650.0" cy="768.5" r="2.15"/><circle cx="652.0" cy="768.5" r="2.15"/><circle cx="654.0" cy="768.5" r="2.15"/><circle cx="656.0" cy="768.5" r="2.15"/><circle cx="658.0" cy="768.5" r="2.15"/><circle cx="660.0" cy="768.5" r="2.15"/><circle cx="662.0" cy="768.5" r="2.15"/><circle cx="664.1" cy="768.5" r="2.15"/><circle cx="668.6" cy="768.5" r="2.15"/><circle cx="670.6" cy="768.5" r="2.15"/><circle cx="672.6" cy="768.5" r="2.15"/><circle cx="676.5" cy="768.5" r="2.15"/><circle cx="679.7" cy="768.5" r="2.15"/><circle cx="681.7" cy="768.5" r="2.15"/><circle cx="683.7" cy="768.5" r="2.15"/><circle cx="686.4" cy="768.5" r="2.15"/><circle cx="688.4" cy="768.5" r="2.15"/><circle cx="690.4" cy="768.5" r="2.15"/><circle cx="692.4" cy="768.5" r="2.15"/><circle cx="694.4" cy="768.5" r="2.15"/><circle cx="696.4" cy="768.5" r="2.15"/><circle cx="698.4" cy="768.5" r="2.15"/><circle cx="700.9" cy="768.5" r="2.15"/><circle cx="702.9" cy="768.5" r="2.15"/><circle cx="704.9" cy="768.5" r="2.15"/><circle cx="706.9" cy="768.5" r="2.15"/><circle cx="708.9" cy="768.5" r="2.15"/><circle cx="710.9" cy="768.5" r="2.15"/><circle cx="712.9" cy="768.5" r="2.15"/><circle cx="714.9" cy="768.5" r="2.15"/><circle cx="716.9" cy="768.5" r="2.15"/><circle cx="718.9" cy="768.5" r="2.15"/><circle cx="720.9" cy="768.5" r="2.15"/><circle cx="722.9" cy="768.5" r="2.15"/><circle cx="724.9" cy="768.5" r="2.15"/><circle cx="726.9" cy="768.5" r="2.15"/><circle cx="728.9" cy="768.5" r="2.15"/><circle cx="730.9" cy="768.5" r="2.15"/><circle cx="732.9" cy="768.5" r="2.15"/><circle cx="734.9" cy="768.5" r="2.15"/><circle cx="736.9" cy="768.5" r="2.15"/><circle cx="738.9" cy="768.5" r="2.15"/><circle cx="740.9" cy="768.5" r="2.15"/><circle cx="742.9" cy="768.5" r="2.15"/><circle cx="744.9" cy="768.5" r="2.15"/><circle cx="746.9" cy="768.5" r="2.15"/><circle cx="748.9" cy="768.5" r="2.15"/><circle cx="750.9" cy="768.5" r="2.15"/><circle cx="752.9" cy="768.5" r="2.15"/><circle cx="754.9" cy="768.5" r="2.15"/><circle cx="756.9" cy="768.5" r="2.15"/><circle cx="758.9" cy="768.5" r="2.15"/><circle cx="762.9" cy="768.5" r="2.15"/><circle cx="764.9" cy="768.5" r="2.15"/><circle cx="766.9" cy="768.5" r="2.15"/><circle cx="770.0" cy="768.5" r="2.15"/><circle cx="772.0" cy="768.5" r="2.15"/><circle cx="774.0" cy="768.5" r="2.15"/><circle cx="776.0" cy="768.5" r="2.15"/><circle cx="778.0" cy="768.5" r="2.15"/><circle cx="780.0" cy="768.5" r="2.15"/><circle cx="785.0" cy="768.5" r="2.15"/><circle cx="787.0" cy="768.5" r="2.15"/><circle cx="793.4" cy="768.5" r="2.15"/><circle cx="795.4" cy="768.5" r="2.15"/><circle cx="797.4" cy="768.5" r="2.15"/><circle cx="799.4" cy="768.5" r="2.15"/><circle cx="801.4" cy="768.5" r="2.15"/><circle cx="803.4" cy="768.5" r="2.15"/><circle cx="805.4" cy="768.5" r="2.15"/><circle cx="807.4" cy="768.5" r="2.15"/><circle cx="809.4" cy="768.5" r="2.15"/><circle cx="811.4" cy="768.5" r="2.15"/><circle cx="813.4" cy="768.5" r="2.15"/><circle cx="815.4" cy="768.5" r="2.15"/><circle cx="817.4" cy="768.5" r="2.15"/><circle cx="819.4" cy="768.5" r="2.15"/><circle cx="821.4" cy="768.5" r="2.15"/><circle cx="823.4" cy="768.5" r="2.15"/><circle cx="825.4" cy="768.5" r="2.15"/><circle cx="827.4" cy="768.5" r="2.15"/><circle cx="829.4" cy="768.5" r="2.15"/><circle cx="831.4" cy="768.5" r="2.15"/><circle cx="833.4" cy="768.5" r="2.15"/><circle cx="835.4" cy="768.5" r="2.15"/><circle cx="837.4" cy="768.5" r="2.15"/><circle cx="839.4" cy="768.5" r="2.15"/><circle cx="841.4" cy="768.5" r="2.15"/><circle cx="843.4" cy="768.5" r="2.15"/><circle cx="845.4" cy="768.5" r="2.15"/><circle cx="847.4" cy="768.5" r="2.15"/><circle cx="849.4" cy="768.5" r="2.15"/><circle cx="851.4" cy="768.5" r="2.15"/><circle cx="853.4" cy="768.5" r="2.15"/><circle cx="855.4" cy="768.5" r="2.15"/><circle cx="857.4" cy="768.5" r="2.15"/><circle cx="859.4" cy="768.5" r="2.15"/><circle cx="861.4" cy="768.5" r="2.15"/><circle cx="863.4" cy="768.5" r="2.15"/><circle cx="865.4" cy="768.5" r="2.15"/><circle cx="867.4" cy="768.5" r="2.15"/><circle cx="869.4" cy="768.5" r="2.15"/><circle cx="871.4" cy="768.5" r="2.15"/><circle cx="873.4" cy="768.5" r="2.15"/><circle cx="875.4" cy="768.5" r="2.15"/><circle cx="877.4" cy="768.5" r="2.15"/><circle cx="879.4" cy="768.5" r="2.15"/><circle cx="881.4" cy="768.5" r="2.15"/><circle cx="883.4" cy="768.5" r="2.15"/><circle cx="885.4" cy="768.5" r="2.15"/><circle cx="887.4" cy="768.5" r="2.15"/><circle cx="889.4" cy="768.5" r="2.15"/><circle cx="891.4" cy="768.5" r="2.15"/><circle cx="893.4" cy="768.5" r="2.15"/><circle cx="895.4" cy="768.5" r="2.15"/><circle cx="897.4" cy="768.5" r="2.15"/><circle cx="899.4" cy="768.5" r="2.15"/><circle cx="901.4" cy="768.5" r="2.15"/><circle cx="903.4" cy="768.5" r="2.15"/></g>
<g fill="#b1302f"><circle cx="172.4" cy="765.4" r="2.2"/><circle cx="173.5" cy="764.9" r="2.2"/><circle cx="174.6" cy="764.4" r="2.2"/><circle cx="175.7" cy="764.0" r="2.2"/><circle cx="176.8" cy="763.5" r="2.2"/><circle cx="177.9" cy="763.0" r="2.2"/><circle cx="179.0" cy="762.5" r="2.2"/><circle cx="180.1" cy="762.1" r="2.2"/><circle cx="181.2" cy="761.6" r="2.2"/><circle cx="182.3" cy="761.1" r="2.2"/><circle cx="183.4" cy="760.6" r="2.2"/><circle cx="184.5" cy="760.2" r="2.2"/><circle cx="185.6" cy="759.7" r="2.2"/><circle cx="186.7" cy="759.2" r="2.2"/><circle cx="187.8" cy="758.7" r="2.2"/><circle cx="188.9" cy="758.3" r="2.2"/><circle cx="190.0" cy="757.8" r="2.2"/><circle cx="191.1" cy="757.3" r="2.2"/><circle cx="192.2" cy="756.8" r="2.2"/><circle cx="193.3" cy="756.4" r="2.2"/><circle cx="194.4" cy="755.9" r="2.2"/><circle cx="195.5" cy="755.4" r="2.2"/><circle cx="196.6" cy="754.9" r="2.2"/><circle cx="197.7" cy="754.5" r="2.2"/><circle cx="198.8" cy="754.0" r="2.2"/><circle cx="199.9" cy="753.5" r="2.2"/><circle cx="201.0" cy="753.0" r="2.2"/><circle cx="202.1" cy="752.5" r="2.2"/><circle cx="203.2" cy="752.1" r="2.2"/><circle cx="204.3" cy="751.6" r="2.2"/><circle cx="205.4" cy="751.1" r="2.2"/><circle cx="206.5" cy="750.6" r="2.2"/><circle cx="207.6" cy="750.2" r="2.2"/><circle cx="208.8" cy="749.7" r="2.2"/><circle cx="209.9" cy="749.2" r="2.2"/><circle cx="211.0" cy="748.7" r="2.2"/><circle cx="212.1" cy="748.3" r="2.2"/><circle cx="213.2" cy="747.8" r="2.2"/><circle cx="214.3" cy="747.3" r="2.2"/><circle cx="215.4" cy="746.8" r="2.2"/><circle cx="216.5" cy="746.4" r="2.2"/><circle cx="217.6" cy="745.9" r="2.2"/><circle cx="218.7" cy="745.4" r="2.2"/><circle cx="219.8" cy="744.9" r="2.2"/><circle cx="220.9" cy="744.5" r="2.2"/><circle cx="222.0" cy="744.0" r="2.2"/><circle cx="223.1" cy="743.5" r="2.2"/><circle cx="224.2" cy="743.0" r="2.2"/><circle cx="225.3" cy="742.6" r="2.2"/><circle cx="226.4" cy="742.1" r="2.2"/><circle cx="227.5" cy="741.6" r="2.2"/><circle cx="228.6" cy="741.1" r="2.2"/><circle cx="229.7" cy="740.6" r="2.2"/><circle cx="230.8" cy="740.2" r="2.2"/><circle cx="231.9" cy="739.7" r="2.2"/><circle cx="233.0" cy="739.2" r="2.2"/><circle cx="234.1" cy="738.7" r="2.2"/><circle cx="235.2" cy="738.3" r="2.2"/><circle cx="236.3" cy="737.8" r="2.2"/><circle cx="237.4" cy="737.3" r="2.2"/><circle cx="238.5" cy="736.8" r="2.2"/><circle cx="239.6" cy="736.4" r="2.2"/><circle cx="240.7" cy="735.9" r="2.2"/><circle cx="241.8" cy="735.4" r="2.2"/><circle cx="242.9" cy="734.9" r="2.2"/><circle cx="244.0" cy="734.5" r="2.2"/><circle cx="245.1" cy="734.0" r="2.2"/><circle cx="246.2" cy="733.5" r="2.2"/><circle cx="247.3" cy="733.0" r="2.2"/><circle cx="248.4" cy="732.6" r="2.2"/><circle cx="249.5" cy="732.1" r="2.2"/><circle cx="250.6" cy="731.6" r="2.2"/><circle cx="251.7" cy="731.1" r="2.2"/><circle cx="252.8" cy="730.7" r="2.2"/><circle cx="253.9" cy="730.2" r="2.2"/><circle cx="255.0" cy="729.7" r="2.2"/><circle cx="256.1" cy="729.2" r="2.2"/><circle cx="257.2" cy="728.7" r="2.2"/><circle cx="258.3" cy="728.3" r="2.2"/><circle cx="259.4" cy="727.8" r="2.2"/><circle cx="260.5" cy="727.3" r="2.2"/><circle cx="261.6" cy="726.8" r="2.2"/><circle cx="262.7" cy="726.4" r="2.2"/><circle cx="263.8" cy="725.9" r="2.2"/><circle cx="264.9" cy="725.4" r="2.2"/><circle cx="266.0" cy="724.9" r="2.2"/><circle cx="267.1" cy="724.5" r="2.2"/><circle cx="268.2" cy="724.0" r="2.2"/><circle cx="269.3" cy="723.5" r="2.2"/><circle cx="270.4" cy="723.0" r="2.2"/><circle cx="271.5" cy="722.6" r="2.2"/><circle cx="272.6" cy="722.1" r="2.2"/><circle cx="273.7" cy="721.6" r="2.2"/><circle cx="274.8" cy="721.1" r="2.2"/><circle cx="275.9" cy="720.7" r="2.2"/><circle cx="277.0" cy="720.2" r="2.2"/><circle cx="278.1" cy="719.7" r="2.2"/><circle cx="279.3" cy="719.2" r="2.2"/><circle cx="280.4" cy="718.8" r="2.2"/><circle cx="281.5" cy="718.3" r="2.2"/><circle cx="282.6" cy="717.8" r="2.2"/><circle cx="283.7" cy="717.3" r="2.2"/><circle cx="284.8" cy="716.8" r="2.2"/><circle cx="285.9" cy="716.4" r="2.2"/><circle cx="287.0" cy="715.9" r="2.2"/><circle cx="288.1" cy="715.4" r="2.2"/><circle cx="289.2" cy="714.9" r="2.2"/><circle cx="290.3" cy="714.5" r="2.2"/><circle cx="291.4" cy="714.0" r="2.2"/><circle cx="292.5" cy="713.5" r="2.2"/><circle cx="293.6" cy="713.0" r="2.2"/><circle cx="294.7" cy="712.6" r="2.2"/><circle cx="295.8" cy="712.1" r="2.2"/><circle cx="296.9" cy="711.6" r="2.2"/><circle cx="298.0" cy="711.1" r="2.2"/><circle cx="299.1" cy="710.7" r="2.2"/><circle cx="300.2" cy="710.2" r="2.2"/><circle cx="301.3" cy="709.7" r="2.2"/><circle cx="304.8" cy="708.2" r="2.2"/><circle cx="307.1" cy="707.2" r="2.2"/><circle cx="310.5" cy="705.7" r="2.2"/><circle cx="313.8" cy="704.3" r="2.2"/><circle cx="319.8" cy="701.7" r="2.2"/><circle cx="322.5" cy="700.6" r="2.2"/><circle cx="324.8" cy="699.6" r="2.2"/><circle cx="327.1" cy="698.6" r="2.2"/><circle cx="329.4" cy="697.6" r="2.2"/><circle cx="331.7" cy="696.6" r="2.2"/><circle cx="334.0" cy="695.6" r="2.2"/><circle cx="336.2" cy="694.6" r="2.2"/><circle cx="338.5" cy="693.6" r="2.2"/><circle cx="343.7" cy="691.4" r="2.2"/><circle cx="347.9" cy="689.5" r="2.2"/><circle cx="351.2" cy="688.0" r="2.2"/><circle cx="353.5" cy="687.0" r="2.2"/><circle cx="355.8" cy="686.0" r="2.2"/><circle cx="358.0" cy="684.9" r="2.2"/><circle cx="360.3" cy="683.9" r="2.2"/><circle cx="362.6" cy="682.8" r="2.2"/><circle cx="364.8" cy="681.7" r="2.2"/><circle cx="367.1" cy="680.6" r="2.2"/><circle cx="369.3" cy="679.5" r="2.2"/><circle cx="371.5" cy="678.4" r="2.2"/><circle cx="377.9" cy="675.4" r="2.2"/><circle cx="380.2" cy="674.3" r="2.2"/><circle cx="382.5" cy="673.3" r="2.2"/><circle cx="384.7" cy="672.2" r="2.2"/><circle cx="387.3" cy="671.0" r="2.2"/><circle cx="389.6" cy="670.0" r="2.2"/><circle cx="392.1" cy="668.8" r="2.2"/><circle cx="394.4" cy="667.8" r="2.2"/><circle cx="396.6" cy="666.8" r="2.2"/><circle cx="398.9" cy="665.7" r="2.2"/><circle cx="404.0" cy="663.4" r="2.2"/><circle cx="406.3" cy="662.3" r="2.2"/><circle cx="408.6" cy="661.3" r="2.2"/><circle cx="410.8" cy="660.2" r="2.2"/><circle cx="415.5" cy="658.1" r="2.2"/><circle cx="421.0" cy="655.5" r="2.2"/><circle cx="423.3" cy="654.5" r="2.2"/><circle cx="425.5" cy="653.4" r="2.2"/><circle cx="427.8" cy="652.3" r="2.2"/><circle cx="430.1" cy="651.2" r="2.2"/><circle cx="432.3" cy="650.2" r="2.2"/><circle cx="434.6" cy="649.1" r="2.2"/><circle cx="436.8" cy="648.0" r="2.2"/><circle cx="439.1" cy="646.9" r="2.2"/><circle cx="441.3" cy="645.9" r="2.2"/><circle cx="443.6" cy="644.8" r="2.2"/><circle cx="449.8" cy="641.8" r="2.2"/><circle cx="452.0" cy="640.8" r="2.2"/><circle cx="454.3" cy="639.7" r="2.2"/><circle cx="456.6" cy="638.6" r="2.2"/><circle cx="458.8" cy="637.6" r="2.2"/><circle cx="463.5" cy="635.4" r="2.2"/><circle cx="465.8" cy="634.3" r="2.2"/><circle cx="468.0" cy="633.3" r="2.2"/><circle cx="470.3" cy="632.2" r="2.2"/><circle cx="473.7" cy="630.7" r="2.2"/><circle cx="476.0" cy="629.6" r="2.2"/><circle cx="480.6" cy="627.5" r="2.2"/><circle cx="482.4" cy="626.7" r="2.2"/><circle cx="486.7" cy="624.7" r="2.2"/><circle cx="489.0" cy="623.7" r="2.2"/><circle cx="491.3" cy="622.6" r="2.2"/><circle cx="493.5" cy="621.6" r="2.2"/><circle cx="498.2" cy="619.4" r="2.2"/><circle cx="500.0" cy="618.6" r="2.2"/><circle cx="502.2" cy="617.6" r="2.2"/><circle cx="504.3" cy="616.5" r="2.2"/><circle cx="506.5" cy="615.4" r="2.2"/><circle cx="508.6" cy="614.3" r="2.2"/><circle cx="510.8" cy="613.3" r="2.2"/><circle cx="518.3" cy="609.9" r="2.2"/><circle cx="522.3" cy="607.8" r="2.2"/><circle cx="525.6" cy="606.1" r="2.2"/><circle cx="530.5" cy="603.7" r="2.2"/><circle cx="532.6" cy="602.6" r="2.2"/><circle cx="534.7" cy="601.5" r="2.2"/><circle cx="536.9" cy="600.3" r="2.2"/><circle cx="541.9" cy="597.5" r="2.2"/><circle cx="547.9" cy="594.0" r="2.2"/><circle cx="550.1" cy="592.9" r="2.2"/><circle cx="552.2" cy="591.8" r="2.2"/><circle cx="554.7" cy="590.6" r="2.2"/><circle cx="556.8" cy="589.5" r="2.2"/><circle cx="563.1" cy="586.4" r="2.2"/><circle cx="565.3" cy="585.4" r="2.2"/><circle cx="567.4" cy="584.3" r="2.2"/><circle cx="572.2" cy="581.9" r="2.2"/><circle cx="576.6" cy="579.7" r="2.2"/><circle cx="578.7" cy="578.6" r="2.2"/><circle cx="580.9" cy="577.6" r="2.2"/><circle cx="584.2" cy="575.9" r="2.2"/><circle cx="586.3" cy="574.8" r="2.2"/><circle cx="588.4" cy="573.7" r="2.2"/><circle cx="594.2" cy="570.7" r="2.2"/><circle cx="598.9" cy="568.0" r="2.2"/><circle cx="601.0" cy="566.9" r="2.2"/><circle cx="603.2" cy="565.8" r="2.2"/><circle cx="605.4" cy="564.8" r="2.2"/><circle cx="612.0" cy="561.6" r="2.2"/><circle cx="614.8" cy="560.1" r="2.2"/><circle cx="617.9" cy="558.2" r="2.2"/><circle cx="619.1" cy="557.5" r="2.2"/><circle cx="620.3" cy="556.8" r="2.2"/><circle cx="621.6" cy="556.2" r="2.2"/><circle cx="622.8" cy="555.6" r="2.2"/><circle cx="624.1" cy="555.0" r="2.2"/><circle cx="625.3" cy="554.4" r="2.2"/><circle cx="626.6" cy="553.7" r="2.2"/><circle cx="627.8" cy="553.1" r="2.2"/><circle cx="629.1" cy="552.4" r="2.2"/><circle cx="630.3" cy="551.8" r="2.2"/><circle cx="631.5" cy="551.1" r="2.2"/><circle cx="632.7" cy="550.3" r="2.2"/><circle cx="633.8" cy="549.4" r="2.2"/><circle cx="634.7" cy="548.4" r="2.2"/><circle cx="635.6" cy="547.3" r="2.2"/><circle cx="636.4" cy="546.2" r="2.2"/><circle cx="637.2" cy="545.1" r="2.2"/><circle cx="638.1" cy="543.9" r="2.2"/><circle cx="638.9" cy="542.8" r="2.2"/><circle cx="639.7" cy="541.6" r="2.2"/><circle cx="640.4" cy="540.5" r="2.2"/><circle cx="641.2" cy="539.3" r="2.2"/><circle cx="641.9" cy="538.1" r="2.2"/><circle cx="642.7" cy="536.9" r="2.2"/><circle cx="643.4" cy="535.7" r="2.2"/><circle cx="644.1" cy="534.5" r="2.2"/><circle cx="644.8" cy="533.3" r="2.2"/><circle cx="645.4" cy="532.0" r="2.2"/><circle cx="646.1" cy="530.8" r="2.2"/><circle cx="646.7" cy="529.6" r="2.2"/><circle cx="647.4" cy="528.3" r="2.2"/><circle cx="648.0" cy="527.0" r="2.2"/><circle cx="648.6" cy="525.8" r="2.2"/><circle cx="649.2" cy="524.5" r="2.2"/><circle cx="649.9" cy="523.3" r="2.2"/><circle cx="650.5" cy="522.1" r="2.2"/><circle cx="651.3" cy="520.9" r="2.2"/><circle cx="655.1" cy="516.7" r="2.2"/><circle cx="656.0" cy="515.2" r="2.2"/><circle cx="656.7" cy="513.7" r="2.2"/><circle cx="657.3" cy="512.1" r="2.2"/><circle cx="658.0" cy="510.4" r="2.2"/><circle cx="658.8" cy="508.8" r="2.2"/><circle cx="659.6" cy="507.2" r="2.2"/><circle cx="660.8" cy="504.6" r="2.2"/><circle cx="661.6" cy="503.0" r="2.2"/><circle cx="662.4" cy="501.4" r="2.2"/><circle cx="663.6" cy="498.6" r="2.2"/><circle cx="664.4" cy="497.0" r="2.2"/><circle cx="666.1" cy="492.8" r="2.2"/><circle cx="666.7" cy="491.2" r="2.2"/><circle cx="669.0" cy="484.4" r="2.2"/><circle cx="671.6" cy="480.0" r="2.2"/><circle cx="675.6" cy="470.6" r="2.2"/><circle cx="677.7" cy="464.8" r="2.2"/><circle cx="678.3" cy="463.2" r="2.2"/><circle cx="679.9" cy="459.5" r="2.2"/><circle cx="680.6" cy="457.8" r="2.2"/><circle cx="681.4" cy="456.2" r="2.2"/><circle cx="682.2" cy="454.6" r="2.2"/><circle cx="684.5" cy="450.3" r="2.2"/><circle cx="685.6" cy="448.9" r="2.2"/><circle cx="689.4" cy="445.6" r="2.2"/><circle cx="690.6" cy="444.3" r="2.2"/><circle cx="694.0" cy="439.4" r="2.2"/><circle cx="697.0" cy="435.5" r="2.2"/><circle cx="698.0" cy="434.0" r="2.2"/><circle cx="698.9" cy="432.4" r="2.2"/><circle cx="700.6" cy="428.8" r="2.2"/><circle cx="701.3" cy="427.2" r="2.2"/><circle cx="703.0" cy="422.7" r="2.2"/><circle cx="703.6" cy="421.0" r="2.2"/><circle cx="704.2" cy="419.3" r="2.2"/><circle cx="705.7" cy="414.9" r="2.2"/><circle cx="706.3" cy="413.1" r="2.2"/><circle cx="708.5" cy="405.7" r="2.2"/><circle cx="709.0" cy="404.0" r="2.2"/><circle cx="709.6" cy="402.3" r="2.2"/><circle cx="711.0" cy="398.7" r="2.2"/><circle cx="711.6" cy="397.0" r="2.2"/><circle cx="712.2" cy="395.3" r="2.2"/><circle cx="716.6" cy="383.5" r="2.2"/><circle cx="717.3" cy="381.8" r="2.2"/><circle cx="717.9" cy="380.2" r="2.2"/><circle cx="718.6" cy="378.5" r="2.2"/><circle cx="724.6" cy="364.8" r="2.2"/><circle cx="725.4" cy="363.2" r="2.2"/><circle cx="729.0" cy="355.6" r="2.2"/><circle cx="732.1" cy="349.6" r="2.2"/><circle cx="733.0" cy="348.0" r="2.2"/><circle cx="733.9" cy="346.5" r="2.2"/><circle cx="736.1" cy="343.1" r="2.2"/><circle cx="737.1" cy="341.5" r="2.2"/><circle cx="738.0" cy="340.0" r="2.2"/><circle cx="738.9" cy="338.4" r="2.2"/><circle cx="739.8" cy="336.9" r="2.2"/><circle cx="742.7" cy="331.4" r="2.2"/><circle cx="743.6" cy="329.8" r="2.2"/><circle cx="744.4" cy="328.2" r="2.2"/><circle cx="745.3" cy="326.6" r="2.2"/><circle cx="749.6" cy="318.8" r="2.2"/><circle cx="750.4" cy="317.2" r="2.2"/><circle cx="753.7" cy="308.8" r="2.2"/><circle cx="754.3" cy="307.1" r="2.2"/><circle cx="761.0" cy="286.6" r="2.2"/><circle cx="762.2" cy="281.5" r="2.2"/><circle cx="762.5" cy="279.7" r="2.2"/><circle cx="763.0" cy="278.0" r="2.2"/><circle cx="763.6" cy="276.3" r="2.2"/><circle cx="764.3" cy="274.6" r="2.2"/><circle cx="766.7" cy="268.9" r="2.2"/><circle cx="767.2" cy="267.1" r="2.2"/><circle cx="768.6" cy="259.0" r="2.2"/><circle cx="771.8" cy="245.9" r="2.2"/><circle cx="772.2" cy="244.1" r="2.2"/><circle cx="773.7" cy="239.9" r="2.2"/><circle cx="774.3" cy="238.1" r="2.2"/><circle cx="777.7" cy="226.9" r="2.2"/><circle cx="778.2" cy="225.1" r="2.2"/><circle cx="780.0" cy="218.5" r="2.2"/><circle cx="780.5" cy="216.7" r="2.2"/><circle cx="781.0" cy="215.0" r="2.2"/><circle cx="781.5" cy="213.3" r="2.2"/><circle cx="782.1" cy="211.6" r="2.2"/><circle cx="785.0" cy="203.0" r="2.2"/><circle cx="787.6" cy="195.6" r="2.2"/><circle cx="791.3" cy="186.7" r="2.2"/><circle cx="792.0" cy="185.0" r="2.2"/><circle cx="792.7" cy="183.3" r="2.2"/><circle cx="794.6" cy="178.3" r="2.2"/><circle cx="795.3" cy="176.7" r="2.2"/><circle cx="796.0" cy="175.0" r="2.2"/><circle cx="796.7" cy="173.3" r="2.2"/><circle cx="797.4" cy="171.7" r="2.2"/><circle cx="801.6" cy="163.0" r="2.2"/><circle cx="806.0" cy="158.0" r="2.2"/><circle cx="809.2" cy="155.2" r="2.2"/><circle cx="810.0" cy="153.6" r="2.2"/><circle cx="814.7" cy="140.4" r="2.2"/><circle cx="815.3" cy="138.8" r="2.2"/><circle cx="817.0" cy="133.7" r="2.2"/><circle cx="817.6" cy="132.0" r="2.2"/><circle cx="818.2" cy="130.3" r="2.2"/><circle cx="819.6" cy="127.0" r="2.2"/><circle cx="827.0" cy="125.0" r="2.2"/><circle cx="829.4" cy="121.2" r="2.2"/><circle cx="830.1" cy="119.6" r="2.2"/><circle cx="831.0" cy="118.0" r="2.2"/><circle cx="832.2" cy="116.6" r="2.2"/><circle cx="833.5" cy="115.4" r="2.2"/><circle cx="837.0" cy="111.0" r="2.2"/><circle cx="652.0" cy="520.0" r="2.2"/><circle cx="653.2" cy="518.7" r="2.2"/><circle cx="660.7" cy="504.8" r="2.2"/><circle cx="666.1" cy="492.9" r="2.2"/><circle cx="670.7" cy="481.7" r="2.2"/><circle cx="675.6" cy="470.5" r="2.2"/><circle cx="679.9" cy="459.4" r="2.2"/><circle cx="680.7" cy="457.7" r="2.2"/><circle cx="681.4" cy="456.1" r="2.2"/><circle cx="689.7" cy="445.3" r="2.2"/><circle cx="690.9" cy="443.9" r="2.2"/><circle cx="700.3" cy="429.6" r="2.2"/><circle cx="704.6" cy="418.2" r="2.2"/><circle cx="705.2" cy="416.5" r="2.2"/><circle cx="705.7" cy="414.8" r="2.2"/><circle cx="710.4" cy="400.1" r="2.2"/><circle cx="712.9" cy="393.5" r="2.2"/><circle cx="715.4" cy="386.8" r="2.2"/><circle cx="717.8" cy="380.5" r="2.2"/><circle cx="724.1" cy="366.0" r="2.2"/><circle cx="724.8" cy="364.4" r="2.2"/><circle cx="728.6" cy="356.4" r="2.2"/><circle cx="729.4" cy="354.8" r="2.2"/><circle cx="735.7" cy="343.7" r="2.2"/><circle cx="743.3" cy="330.2" r="2.2"/><circle cx="744.2" cy="328.6" r="2.2"/><circle cx="745.1" cy="327.1" r="2.2"/><circle cx="749.6" cy="318.8" r="2.2"/><circle cx="750.4" cy="317.2" r="2.2"/><circle cx="751.1" cy="315.5" r="2.2"/><circle cx="754.9" cy="305.3" r="2.2"/><circle cx="760.3" cy="288.8" r="2.2"/><circle cx="760.8" cy="287.1" r="2.2"/><circle cx="762.7" cy="279.2" r="2.2"/><circle cx="767.0" cy="268.0" r="2.2"/><circle cx="768.4" cy="259.8" r="2.2"/><circle cx="771.7" cy="246.2" r="2.2"/><circle cx="775.2" cy="235.1" r="2.2"/><circle cx="777.2" cy="228.8" r="2.2"/><circle cx="780.6" cy="216.3" r="2.2"/><circle cx="782.8" cy="209.4" r="2.2"/><circle cx="783.4" cy="207.7" r="2.2"/><circle cx="784.0" cy="206.0" r="2.2"/><circle cx="784.6" cy="204.3" r="2.2"/><circle cx="789.8" cy="190.2" r="2.2"/><circle cx="790.5" cy="188.5" r="2.2"/><circle cx="791.2" cy="186.8" r="2.2"/><circle cx="794.3" cy="179.0" r="2.2"/><circle cx="796.8" cy="173.1" r="2.2"/><circle cx="797.5" cy="171.5" r="2.2"/><circle cx="801.4" cy="163.4" r="2.2"/><circle cx="808.5" cy="156.1" r="2.2"/><circle cx="809.5" cy="154.6" r="2.2"/><circle cx="810.2" cy="153.0" r="2.2"/><circle cx="815.1" cy="139.3" r="2.2"/><circle cx="817.6" cy="132.1" r="2.2"/><circle cx="818.2" cy="130.4" r="2.2"/><circle cx="818.9" cy="128.7" r="2.2"/><circle cx="828.4" cy="123.2" r="2.2"/><circle cx="829.2" cy="121.5" r="2.2"/><circle cx="832.7" cy="116.1" r="2.2"/><circle cx="839.8" cy="105.2" r="2.2"/><circle cx="842.6" cy="98.7" r="2.2"/><circle cx="843.3" cy="97.0" r="2.2"/><circle cx="844.0" cy="95.3" r="2.2"/><circle cx="845.0" cy="93.0" r="2.2"/><circle cx="846.8" cy="92.7" r="2.2"/><circle cx="848.5" cy="92.4" r="2.2"/><circle cx="850.3" cy="92.0" r="2.2"/><circle cx="852.0" cy="91.4" r="2.2"/><circle cx="853.3" cy="90.2" r="2.2"/><circle cx="854.2" cy="88.6" r="2.2"/><circle cx="855.4" cy="87.3" r="2.2"/><circle cx="856.8" cy="86.2" r="2.2"/><circle cx="858.2" cy="85.3" r="2.2"/><circle cx="859.7" cy="84.2" r="2.2"/><circle cx="861.0" cy="83.0" r="2.2"/><circle cx="862.1" cy="81.5" r="2.2"/><circle cx="862.9" cy="80.0" r="2.2"/><circle cx="863.8" cy="78.4" r="2.2"/><circle cx="865.0" cy="77.0" r="2.2"/><circle cx="866.4" cy="76.0" r="2.2"/><circle cx="868.0" cy="75.1" r="2.2"/><circle cx="869.7" cy="74.4" r="2.2"/><circle cx="872.2" cy="73.3" r="2.2"/><circle cx="873.8" cy="72.6" r="2.2"/><circle cx="875.5" cy="72.0" r="2.2"/><circle cx="877.2" cy="71.4" r="2.2"/><circle cx="878.9" cy="70.8" r="2.2"/><circle cx="880.6" cy="70.2" r="2.2"/><circle cx="882.3" cy="69.7" r="2.2"/><circle cx="884.1" cy="69.6" r="2.2"/><circle cx="885.8" cy="70.1" r="2.2"/><circle cx="887.5" cy="70.8" r="2.2"/><circle cx="890.6" cy="73.6" r="2.2"/><circle cx="894.0" cy="65.6" r="2.2"/><circle cx="897.0" cy="58.0" r="2.2"/><circle cx="898.0" cy="56.9" r="2.2"/><circle cx="899.4" cy="56.6" r="2.2"/><circle cx="900.6" cy="57.3" r="2.2"/><circle cx="901.6" cy="58.5" r="2.2"/><circle cx="904.4" cy="62.0" r="2.2"/></g>
<path d="M270.9,768.8 v-10 M270.9,14.7 v10 M376.7,768.8 v-10 M376.7,14.7 v10 M482.4,768.8 v-10 M482.4,14.7 v10 M588.2,768.8 v-10 M588.2,14.7 v10 M693.9,768.8 v-10 M693.9,14.7 v10 M799.7,768.8 v-10 M799.7,14.7 v10 M165.2,674.5 h10 M165.2,580.3 h10 M165.2,486.0 h10 M165.2,391.8 h10 M165.2,297.5 h10 M165.2,203.2 h10 M165.2,109.0 h10 M905.4,685.0 h-10 M905.4,601.2 h-10 M905.4,517.4 h-10 M905.4,433.6 h-10 M905.4,349.9 h-10 M905.4,266.1 h-10 M905.4,182.3 h-10 M905.4,98.5 h-10" stroke="#111" stroke-width="1.1" fill="none"/>
<rect x="165.2" y="14.7" width="740.2" height="754.1" fill="none" stroke="#000" stroke-width="2"/>
<path d="M419,110.4 H493 L468,97 H570" fill="none" stroke="#4156a6" stroke-width="2" stroke-linejoin="miter"/><path d="M585.6,97.4 L565.6,89.4 L570,97.4 L565.6,105.6 Z" fill="#4156a6"/>
<path d="M442,634.5 H369 L393.6,621.4 H292" fill="none" stroke="#b1302f" stroke-width="1.9" stroke-linejoin="miter"/><path d="M277,621.4 L296,613.6 L292,621.4 L296,629.6 Z" fill="#b1302f"/>
<path d="M693,478 V462" stroke="#555" stroke-width="1.3" fill="none"/><path d="M693,454.8 L688.8,465.2 L693,463.4 L697.2,465.2 Z" fill="#111"/>
<text transform="translate(50.09,28.20) scale(0.9563,1)" font-size="36.00" stroke="#000" stroke-width="0.6" vector-effect="non-scaling-stroke">1.6x10<tspan font-size="20.16" dx="2.16" dy="-12.42">6</tspan></text>
<text transform="translate(50.09,124.00) scale(0.9563,1)" font-size="36.00" stroke="#000" stroke-width="0.6" vector-effect="non-scaling-stroke">1.4x10<tspan font-size="20.16" dx="2.16" dy="-12.42">6</tspan></text>
<text transform="translate(50.09,222.00) scale(0.9563,1)" font-size="36.00" stroke="#000" stroke-width="0.6" vector-effect="non-scaling-stroke">1.2x10<tspan font-size="20.16" dx="2.16" dy="-12.42">6</tspan></text>
<text transform="translate(50.09,310.80) scale(0.9563,1)" font-size="36.00" stroke="#000" stroke-width="0.6" vector-effect="non-scaling-stroke">1.0x10<tspan font-size="20.16" dx="2.16" dy="-12.42">6</tspan></text>
<text transform="translate(48.95,406.60) scale(0.9666,1)" font-size="36.00" stroke="#000" stroke-width="0.6" vector-effect="non-scaling-stroke">0.8x10<tspan font-size="20.16" dx="2.16" dy="-12.42">6</tspan></text>
<text transform="translate(48.95,501.80) scale(0.9666,1)" font-size="36.00" stroke="#000" stroke-width="0.6" vector-effect="non-scaling-stroke">0.6x10<tspan font-size="20.16" dx="2.16" dy="-12.42">6</tspan></text>
<text transform="translate(48.95,597.00) scale(0.9666,1)" font-size="36.00" stroke="#000" stroke-width="0.6" vector-effect="non-scaling-stroke">0.4x10<tspan font-size="20.16" dx="2.16" dy="-12.42">6</tspan></text>
<text transform="translate(48.95,692.60) scale(0.9666,1)" font-size="36.00" stroke="#000" stroke-width="0.6" vector-effect="non-scaling-stroke">0.2x10<tspan font-size="20.16" dx="2.16" dy="-12.42">6</tspan></text>
<text transform="translate(139.52,780.80) scale(0.9867,1)" font-size="36.00" stroke="#000" stroke-width="0.6" vector-effect="non-scaling-stroke">0</text>
<text transform="translate(910.41,694.81) scale(0.9277,1)" font-size="36.00" stroke="#000" stroke-width="0.6" vector-effect="non-scaling-stroke">0.2</text>
<text transform="translate(910.46,611.02) scale(0.8953,1)" font-size="36.00" stroke="#000" stroke-width="0.6" vector-effect="non-scaling-stroke">0.4</text>
<text transform="translate(910.44,527.23) scale(0.9059,1)" font-size="36.00" stroke="#000" stroke-width="0.6" vector-effect="non-scaling-stroke">0.6</text>
<text transform="translate(910.42,443.44) scale(0.9167,1)" font-size="36.00" stroke="#000" stroke-width="0.6" vector-effect="non-scaling-stroke">0.8</text>
<text transform="translate(912.58,359.66) scale(0.8671,1)" font-size="36.00" stroke="#000" stroke-width="0.6" vector-effect="non-scaling-stroke">1.0</text>
<text transform="translate(912.55,275.87) scale(0.8780,1)" font-size="36.00" stroke="#000" stroke-width="0.6" vector-effect="non-scaling-stroke">1.2</text>
<text transform="translate(912.65,192.08) scale(0.8461,1)" font-size="36.00" stroke="#000" stroke-width="0.6" vector-effect="non-scaling-stroke">1.4</text>
<text transform="translate(912.62,108.29) scale(0.8564,1)" font-size="36.00" stroke="#000" stroke-width="0.6" vector-effect="non-scaling-stroke">1.6</text>
<text transform="translate(912.58,24.50) scale(0.8671,1)" font-size="36.00" stroke="#000" stroke-width="0.6" vector-effect="non-scaling-stroke">1.8</text>
<text transform="translate(910.58,773.50) scale(0.9467,1)" font-size="36.00" stroke="#000" stroke-width="0.6" vector-effect="non-scaling-stroke">0</text>
<text transform="translate(154.58,802.40) scale(0.9467,1)" font-size="36.00" stroke="#000" stroke-width="0.6" vector-effect="non-scaling-stroke">0</text>
<text transform="translate(237.18,802.40) scale(0.9080,1)" font-size="36.00" stroke="#000" stroke-width="0.6" vector-effect="non-scaling-stroke">5000</text>
<text transform="translate(335.12,802.40) scale(0.8868,1)" font-size="36.00" stroke="#000" stroke-width="0.6" vector-effect="non-scaling-stroke">10000</text>
<text transform="translate(443.73,802.40) scale(0.8845,1)" font-size="36.00" stroke="#000" stroke-width="0.6" vector-effect="non-scaling-stroke">15000</text>
<text transform="translate(545.64,802.40) scale(0.9034,1)" font-size="36.00" stroke="#000" stroke-width="0.6" vector-effect="non-scaling-stroke">20000</text>
<text transform="translate(652.24,802.40) scale(0.9057,1)" font-size="36.00" stroke="#000" stroke-width="0.6" vector-effect="non-scaling-stroke">25000</text>
<text transform="translate(757.81,802.40) scale(0.9061,1)" font-size="36.00" stroke="#000" stroke-width="0.6" vector-effect="non-scaling-stroke">30000</text>
<text transform="translate(862.92,802.40) scale(0.9049,1)" font-size="36.00" stroke="#000" stroke-width="0.6" vector-effect="non-scaling-stroke">35000</text>
<text transform="translate(503.37,844.40) scale(0.9243,1)" font-size="35.50" stroke="#000" stroke-width="0.6" vector-effect="non-scaling-stroke"><tspan font-style="italic">B</tspan> (T)</text>
<text transform="translate(681.95,507.60) scale(1.0000,1)" font-size="36.00" stroke="#000" stroke-width="0.6" vector-effect="non-scaling-stroke"><tspan font-style="italic">B</tspan></text>
<text transform="translate(704.16,507.60) scale(1.0507,1)" font-size="36.00" stroke="#000" stroke-width="0.6" vector-effect="non-scaling-stroke">=</text>
<text transform="translate(724.07,507.60) scale(0.8896,1)" font-size="36.00" stroke="#000" stroke-width="0.6" vector-effect="non-scaling-stroke">2.5x10</text>
<text transform="translate(812.17,495.40) scale(0.9333,1)" font-size="19.08" stroke="#000" stroke-width="0.6" vector-effect="non-scaling-stroke">4</text>
<text transform="translate(821.86,507.60) scale(0.8930,1)" font-size="36.00" stroke="#000" stroke-width="0.6" vector-effect="non-scaling-stroke">(T)</text>
<text transform="translate(643.19,750.50) scale(0.8476,1)" font-size="36.00" stroke="#000" stroke-width="0.6" vector-effect="non-scaling-stroke"><tspan font-style="italic">B</tspan></text>
<text transform="translate(662.39,762.60) scale(1.0759,1)" font-size="19.08" stroke="#000" stroke-width="0.6" vector-effect="non-scaling-stroke">c</text>
<text transform="translate(668.52,750.50) scale(1.0746,1)" font-size="36.00" stroke="#000" stroke-width="0.6" vector-effect="non-scaling-stroke">=</text>
<text transform="translate(696.04,750.50) scale(0.9070,1)" font-size="36.00" stroke="#000" stroke-width="0.6" vector-effect="non-scaling-stroke">2.22x10</text>
<text transform="translate(802.17,738.40) scale(0.9333,1)" font-size="19.08" stroke="#000" stroke-width="0.6" vector-effect="non-scaling-stroke">4</text>
<text transform="translate(811.87,750.50) scale(0.8837,1)" font-size="36.00" stroke="#000" stroke-width="0.6" vector-effect="non-scaling-stroke">(T)</text>
<text transform="translate(26.00,530.00) rotate(-90) scale(1.0459,1)" x="-1.00" y="0" font-size="34.20" stroke="#000" stroke-width="0.6" vector-effect="non-scaling-stroke">Magnetization (J/ Tm<tspan font-size="18.81" dx="0.00" dy="-12.31">3</tspan><tspan dx="0.00" dy="12.31">)</tspan></text>
<text transform="translate(993.00,540.00) rotate(-90) scale(0.9960,1)" x="-1.00" y="0" font-size="36.00" stroke="#000" stroke-width="0.6" vector-effect="non-scaling-stroke">Energy band gap (eV)</text>
</svg></body></html>
